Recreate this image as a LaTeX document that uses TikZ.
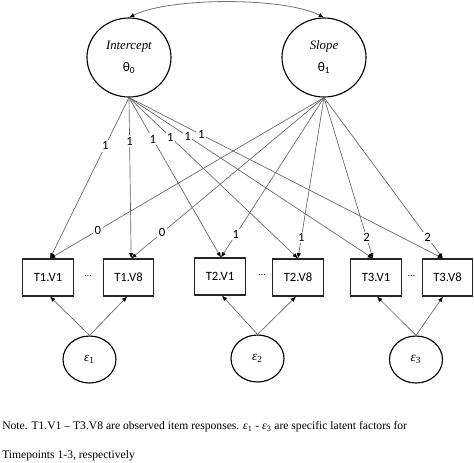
\documentclass[tikz,border=0pt]{standalone}
\usepackage{fontspec}
\setmainfont{Liberation Serif}
\newfontfamily\carlito{Carlito}
\usetikzlibrary{arrows.meta,shapes.geometric}
\tikzset{
  lat/.style={ellipse, draw=black, line width=0.85pt, inner sep=0pt},
  bigl/.style={lat, minimum width=63pt, minimum height=59.25pt, align=center, font=\fontsize{9.6}{11}\selectfont},
  errl/.style={lat, minimum width=39.75pt, minimum height=35.25pt, font=\fontsize{10}{11}\selectfont},
  obs/.style={rectangle, draw=black!85, line width=0.8pt, minimum width=38pt, minimum height=27.75pt, inner sep=0pt, font=\carlito\fontsize{9.5}{11}\selectfont},
  pth/.style={draw=black!60, line width=0.5pt, -{Latex[length=4pt,width=3.2pt,color=black]}},
  curv/.style={draw=black!55, line width=0.6pt, {Latex[length=4pt,width=3.2pt,color=black]}-{Latex[length=4pt,width=3.2pt,color=black]}},
  lab/.style={fill=white, inner sep=1.2pt, font=\carlito\fontsize{9.5}{11}\selectfont},
  dots/.style={font=\carlito\fontsize{7.5}{8}\selectfont, inner sep=0pt},
  note/.style={anchor=west, inner sep=0pt, font=\fontsize{8.7}{10}\selectfont}
}
\begin{document}
\begin{tikzpicture}[x=0.75pt,y=-0.75pt]
\useasboundingbox (0,0) rectangle (474,462);
% latent factors
\node[bigl] (int) at (129,57.5) {\textit{Intercept}\\[5.5pt]{\carlito\fontsize{10}{11}\selectfont θ\textsubscript{0}}};
\node[bigl] (slo) at (324,57.5) {\textit{Slope}\\[5.5pt]{\carlito\fontsize{10}{11}\selectfont θ\textsubscript{1}}};
% observed
\node[obs] (t11) at (48,277.5) {T1.V1};
\node[obs] (t18) at (128.5,277.5) {T1.V8};
\node[obs] (t21) at (220,276.5) {T2.V1};
\node[obs] (t28) at (298,277.5) {T2.V8};
\node[obs] (t31) at (376,277.5) {T3.V1};
\node[obs] (t38) at (447.5,277.5) {T3.V8};
\node[dots] (d1) at (88,276) {…};
\node[dots] (d2) at (262,275) {…};
\node[dots] (d3) at (411.5,276) {…};
% errors
\node[errl] (e1) at (89.5,359.5) {\textit{ε}\textsubscript{1}};
\node[errl] (e2) at (257.5,358.5) {\textit{ε}\textsubscript{2}};
\node[errl] (e3) at (416,359.5) {\textit{ε}\textsubscript{3}};
% covariance
\draw[curv] (int.north) .. controls (170,-3) and (284,-3) .. (slo.north);
% intercept loadings
\draw[pth] (int.south) -- node[lab,pos=.3]{1} ([xshift=1.5pt]t11.north);
\draw[pth] (int.south) -- node[lab,pos=.27]{1} ([xshift=2pt]t18.north);
\draw[pth] (int.south) -- node[lab,pos=.26]{1} ([xshift=0.75pt]t21.north);
\draw[pth] (int.south) -- node[lab,pos=.245]{1} ([xshift=0pt]t28.north);
\draw[pth] (int.south) -- node[lab,pos=.24]{1} ([xshift=-2.25pt]t31.north);
\draw[pth] (int.south) -- node[lab,pos=.23]{1} ([xshift=-3.4pt]t38.north);
% slope loadings
\draw[pth] (slo.south) -- node[lab,pos=.825]{0} ([xshift=1.5pt]t11.north);
\draw[pth] (slo.south) -- node[lab,pos=.84]{0} ([xshift=2pt]t18.north);
\draw[pth] (slo.south) -- node[lab,pos=.855]{1} ([xshift=0.75pt]t21.north);
\draw[pth] (slo.south) -- node[lab,pos=.87]{1} ([xshift=0pt]t28.north);
\draw[pth] (slo.south) -- node[lab,pos=.87]{2} ([xshift=-2.25pt]t31.north);
\draw[pth] (slo.south) -- node[lab,pos=.87]{2} ([xshift=-3.4pt]t38.north);
% error paths
\draw[pth] (e1.north) -- ([xshift=1.5pt]t11.south);
\draw[pth] (e1.north) -- ([xshift=-1pt]t18.south);
\draw[pth] (e2.north) -- ([xshift=1.5pt]t21.south);
\draw[pth] (e2.north) -- ([xshift=-1.5pt]t28.south);
\draw[pth] (e3.north) -- ([xshift=0.75pt]t31.south);
\draw[pth] (e3.north) -- ([xshift=-3.4pt]t38.south);
% note
\node[note] (n1) at (2,427) {Note. T1.V1 – T3.V8 are observed item responses. \textit{ε}\textsubscript{1} - \textit{ε}\textsubscript{3} are specific latent factors for};
\node[note] (n2) at (2,456) {Timepoints 1-3, respectively};
\end{tikzpicture}
\end{document}
